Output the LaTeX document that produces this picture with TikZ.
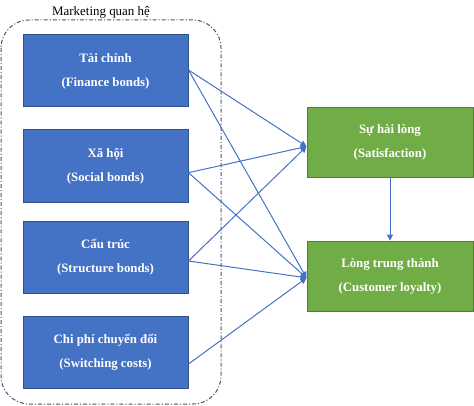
\documentclass[tikz,border=0pt]{standalone}
\usepackage{fontspec}
\setmainfont{Liberation Serif}
\usepackage{xcolor}
\usetikzlibrary{arrows.meta,positioning}

\definecolor{bondblue}{HTML}{4472C4}
\definecolor{bondedge}{HTML}{2F528F}
\definecolor{outgreen}{HTML}{70AD47}
\definecolor{outedge}{HTML}{507E32}
\definecolor{groupline}{HTML}{44546A}

\begin{document}
\begin{tikzpicture}[
  x=0.75pt,y=-0.75pt,
  bond/.style={rectangle,draw=bondedge,fill=bondblue,text=white,line width=0.75pt,
    minimum width=123.75pt,minimum height=54pt,inner sep=0pt,align=center,
    font=\bfseries\fontsize{9.6}{18}\selectfont},
  outcome/.style={bond,draw=outedge,fill=outgreen,minimum width=124.5pt,minimum height=53pt},
  link/.style={draw=bondblue,line width=0.75pt,-{Triangle[length=4.5pt,width=4.5pt]}},
  group/.style={draw=groupline,line width=0.75pt,rounded corners=21pt,
    dash pattern=on 3pt off 1.5pt on 0.8pt off 1.5pt},
]
\useasboundingbox (0,0) rectangle (474,406);

% marketing group frame
\draw[group] (1,20) rectangle (221,404);
\node [fill=white,inner xsep=8pt,inner ysep=1pt,font=\fontsize{9.7}{12}\selectfont] (mkt) at (101,12) {Marketing quan hệ};

% the four bonds
\node [bond] (fin) at (105.5,71) {Tài chính\\(Finance bonds)};
\node [bond] (soc) at (105.5,166) {Xã hội\\(Social bonds)};
\node [bond] (str) at (105.5,257) {Cấu trúc\\(Structure bonds)};
\node [bond] (swc) at (105.5,352) {Chi phí chuyển đổi\\(Switching costs)};

% outcomes
\node [outcome] (sat) at (390,142.5) {Sự hài lòng\\(Satisfaction)};
\node [outcome] (loy) at (390,276.5) {Lòng trung thành\\(Customer loyalty)};

\draw [link] ([yshift=0.75pt]fin.east) -- ([yshift=-3pt]sat.west);
\draw [link] ([yshift=0.75pt]fin.east) -- ([yshift=-1pt]loy.west);
\draw [link] ([yshift=-5pt]soc.east) -- ([yshift=-3pt]sat.west);
\draw [link] ([yshift=-5pt]soc.east) -- ([yshift=-1pt]loy.west);
\draw [link] ([yshift=-3pt]str.east) -- ([yshift=-3pt]sat.west);
\draw [link] ([yshift=-3pt]str.east) -- ([yshift=-1pt]loy.west);
\draw [link] ([yshift=-9pt]swc.east) -- ([yshift=-1pt]loy.west);
\draw [link] (sat.south) -- (loy.north);
\end{tikzpicture}
\end{document}
